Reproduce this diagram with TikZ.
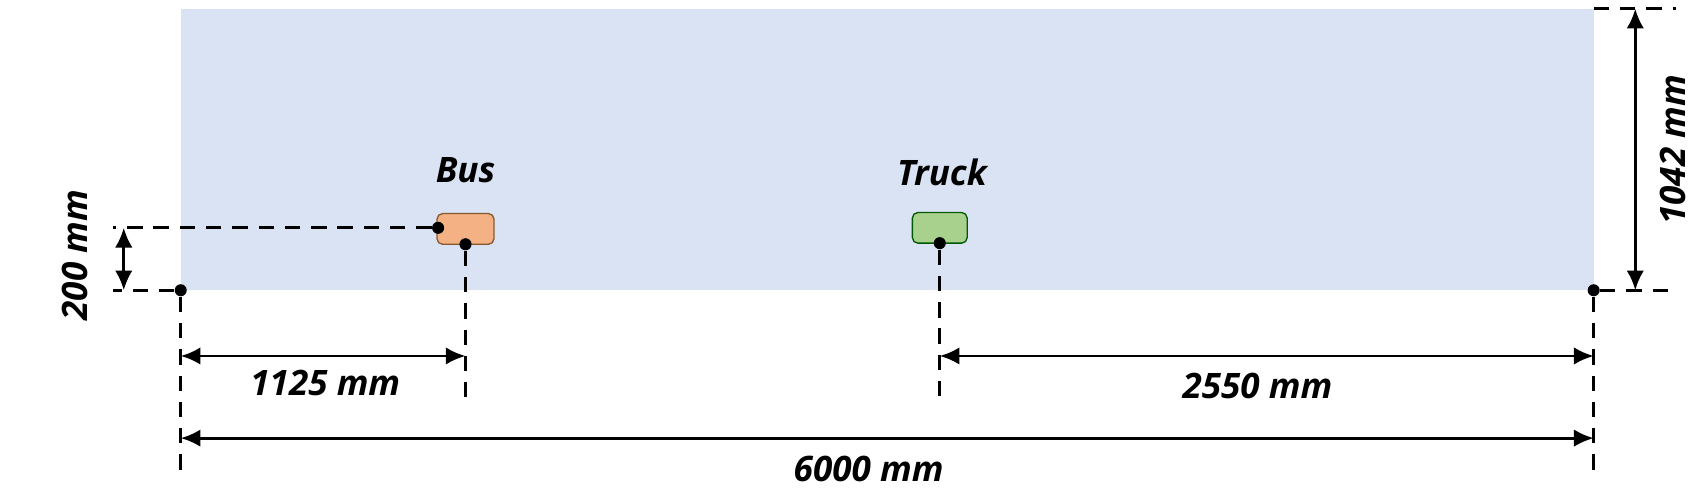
\documentclass[tikz,border=0pt]{standalone}
\usepackage{fontspec}
\setmainfont{Open Sans}
\usetikzlibrary{arrows.meta}
\definecolor{bg}{HTML}{DAE3F3}
\definecolor{busc}{HTML}{F4B183}
\definecolor{truckc}{HTML}{A9D18E}
\begin{document}
\begin{tikzpicture}[x=0.5pt,y=-0.5pt,
  dim/.style={{Latex[length=9pt,width=8pt]}-{Latex[length=9pt,width=8pt]}, line width=1.3pt},
  guide/.style={line width=1.5pt, dash pattern=on 7pt off 5pt},
  lbl/.style={font=\fontsize{16}{18}\selectfont\itshape\bfseries},
  dot/.style={circle, fill=black, inner sep=0pt, minimum size=5.5pt}]
\useasboundingbox (0,0) rectangle (1553,449);
\fill[bg] (165,8) rectangle (1455,265);
\node[draw=brown!70!black, fill=busc, rounded corners=2.5pt, minimum width=26pt, minimum height=14pt, inner sep=0pt, line width=0.6pt] (bus) at (425,209) {};
\node[draw=green!35!black, fill=truckc, rounded corners=2.5pt, minimum width=25pt, minimum height=14pt, inner sep=0pt, line width=0.6pt] (truck) at (858,208) {};
\node[lbl] at (425,155) {Bus};
\node[lbl] at (860,157) {Truck};
\node[dot] (bl) at (400,208) {};
\node[dot] (bb) at (425,223) {};
\node[dot] (tb) at (858,222) {};
\node[dot] (o) at (165,265) {};
\node[dot] (r) at (1455,265) {};
\coordinate (tr) at (1455,8);
\draw[guide] (bl) -- (103,208);
\draw[guide] (o) -- (103,265);
\draw[guide] (o) -- (165,432);
\draw[guide] (r) -- (1455,432);
\draw[guide] (bb) -- (425,365);
\draw[guide] (tb) -- (858,365);
\draw[guide] (tr) -- (1530,8);
\draw[guide] (r) -- (1530,265);
\draw[dim] (113,208) -- (113,265);
\node[lbl, rotate=90] at (68,233) {200 mm};
\draw[dim] (165,325) -- (425,325);
\node[lbl] at (297,350) {1125 mm};
\draw[dim] (858,325) -- (1455,325);
\node[lbl] at (1148,352) {2550 mm};
\draw[dim] (165,400) -- (1455,400);
\node[lbl] at (793,428) {6000 mm};
\draw[dim] (1493,8) -- (1493,265);
\node[lbl, rotate=90] at (1527,137) {1042 mm};
\end{tikzpicture}
\end{document}
